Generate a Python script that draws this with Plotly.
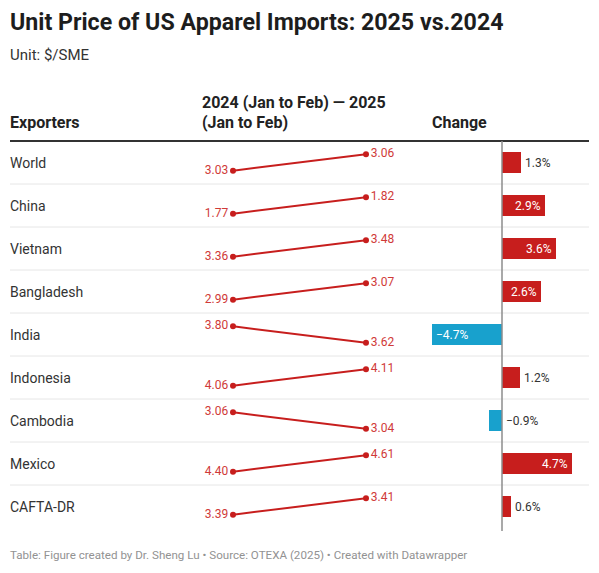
import plotly.graph_objects as go

exporters = ["World", "China", "Vietnam", "Bangladesh", "India", "Indonesia",
             "Cambodia", "Mexico", "CAFTA-DR"]
price_2024 = [3.03, 1.77, 3.36, 2.99, 3.80, 4.06, 3.06, 4.40, 3.39]
price_2025 = [3.06, 1.82, 3.48, 3.07, 3.62, 4.11, 3.04, 4.61, 3.41]
change_pct = [1.3, 2.9, 3.6, 2.6, -4.7, 1.2, -0.9, 4.7, 0.6]

W, H = 599, 573
RED = "#c71e1d"
RED_TEXT = "#d03a38"
BLUE = "#18a1cd"
FONT = "Roboto"
# the page body adds a margin of 8px around the figure
OX, OY = 8, 8


def px(x):
    return (x - OX) / W


def py(y):
    return 1 - (y - OY) / H


def tx(x):
    # left-anchored annotation text sits ~2px right of its anchor
    return px(x - 2)


n = len(exporters)
rows = list(range(n))
table_top, table_bot = 141, 141 + 43 * n

# slope column: higher value drawn on top of the row
off = 0.19
y24 = [r + (off if a <= b else -off) for r, a, b in zip(rows, price_2024, price_2025)]
y25 = [r + (-off if a <= b else off) for r, a, b in zip(rows, price_2024, price_2025)]

fig = go.Figure()

line_x, line_y = [], []
for a, b in zip(y24, y25):
    line_x += [0, 1, None]
    line_y += [a, b, None]
fig.add_trace(go.Scatter(x=line_x, y=line_y, mode="lines", line=dict(color=RED, width=2),
                         xaxis="x", yaxis="y", hoverinfo="skip", cliponaxis=False))
fig.add_trace(go.Scatter(x=[0] * n, y=y24, mode="markers+text", marker=dict(color=RED, size=6),
                         text=[f"{v:.2f}" for v in price_2024], textposition="middle left",
                         textfont=dict(color=RED_TEXT, size=12, family=FONT),
                         xaxis="x", yaxis="y", cliponaxis=False))
fig.add_trace(go.Scatter(x=[1] * n, y=y25, mode="markers+text", marker=dict(color=RED, size=6),
                         text=[f"{v:.2f}" for v in price_2025], textposition="middle right",
                         textfont=dict(color=RED_TEXT, size=12, family=FONT),
                         xaxis="x", yaxis="y", cliponaxis=False))

# change bars
fig.add_trace(go.Bar(x=change_pct, y=rows, orientation="h", width=0.49,
                     marker=dict(color=[RED if v > 0 else BLUE for v in change_pct], line_width=0),
                     xaxis="x2", yaxis="y", hoverinfo="skip"))

zero_px, scale = 502, 14.9
bar_left, bar_right = 420, 589

annotations = []
for r, v in zip(rows, change_pct):
    label = f"{v:.1f}%".replace("-", "\u2212")
    if abs(v) >= 2:
        annotations.append(dict(x=v, y=r, xref="x2", yref="y", text=label, showarrow=False,
                                xanchor="right" if v > 0 else "left", xshift=-2 if v > 0 else 2,
                                font=dict(color="white", size=12, family=FONT)))
    else:
        annotations.append(dict(x=max(v, 0), y=r, xref="x2", yref="y", text=label, showarrow=False,
                                xanchor="left", xshift=2,
                                font=dict(color="#333333", size=12, family=FONT)))

for r, name in zip(rows, exporters):
    annotations.append(dict(x=tx(10), y=r, xref="paper", yref="y", text=name, showarrow=False,
                            xanchor="left", font=dict(color="#333333", size=14, family=FONT)))

head = dict(size=16, color="#222222", family=FONT)
annotations += [
    dict(x=tx(10), y=py(22), text="<b>Unit Price of US Apparel Imports: 2025 vs.2024</b>",
         font=dict(size=23.2, color="#1d1d1d", family=FONT)),
    dict(x=tx(10), y=py(55), text="Unit: $/SME", font=dict(size=15, color="#333333", family=FONT)),
    dict(x=tx(10), y=py(122), text="<b>Exporters</b>", font=head),
    dict(x=tx(202), y=py(103), text="<b>2024 (Jan to Feb) \u2014 2025</b>", font=head),
    dict(x=tx(202), y=py(122), text="<b>(Jan to Feb)</b>", font=head),
    dict(x=tx(432), y=py(122), text="<b>Change</b>", font=head),
    dict(x=tx(10), y=py(555),
         text="Table: Figure created by Dr. Sheng Lu \u2022 Source: OTEXA (2025) \u2022 Created with Datawrapper",
         font=dict(size=11.6, color="#929292", family=FONT)),
]
for a in annotations[-7:]:
    a.update(xref="paper", yref="paper", xanchor="left", yanchor="middle", showarrow=False)

shapes = [dict(type="line", xref="paper", yref="paper", x0=px(10), x1=px(589),
               y0=py(table_top), y1=py(table_top), line=dict(color="#333333", width=2))]
for r in rows[:-1]:
    shapes.append(dict(type="line", xref="paper", yref="y", x0=px(10), x1=px(589),
                       y0=r + 0.5, y1=r + 0.5, line=dict(color="#e6e6e6", width=1)))
shapes.append(dict(type="line", xref="x2", yref="paper", x0=0, x1=0,
                   y0=py(table_bot + 3), y1=py(table_top), line=dict(color="#8c8c8c", width=1.5)))

fig.update_layout(
    width=W, height=H, margin=dict(l=0, r=0, t=0, b=0),
    paper_bgcolor="white", plot_bgcolor="rgba(0,0,0,0)", showlegend=False,
    font=dict(family=FONT),
    xaxis=dict(domain=[px(233), px(366)], range=[0, 1], visible=False, fixedrange=True),
    xaxis2=dict(domain=[px(bar_left), px(bar_right)], anchor="y",
                range=[(bar_left - zero_px) / scale, (bar_right - zero_px) / scale],
                visible=False, fixedrange=True),
    yaxis=dict(domain=[py(table_bot), py(table_top)], range=[n - 0.5, -0.5],
               visible=False, fixedrange=True),
    annotations=annotations, shapes=shapes, bargap=0,
)

fig.write_html("out.html")
